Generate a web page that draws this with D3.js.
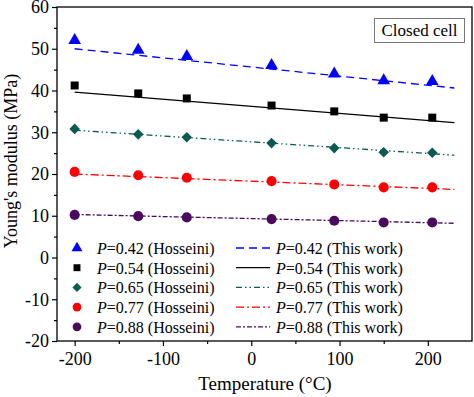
<!DOCTYPE html>
<meta charset="utf-8">
<style>
body { margin: 0; background: #fff; }
text { font-family: "Liberation Serif", "Times New Roman", serif; fill: #000; }
</style>
<body>
<script src="https://d3js.org/d3.v7.min.js"></script>
<script>

const width = 474;
const height = 397;

// measured temperatures (Hosseini)
const temps = [-200, -128, -73, 23, 94, 150, 205];
const ratios = ["0.42", "0.54", "0.65", "0.77", "0.88"];
const hosseini = [
  [52.0, 49.7, 48.2, 46.0, 44.0, 42.4, 42.2],
  [41.2, 39.3, 38.1, 36.4, 35.0, 33.5, 33.5],
  [30.8, 29.5, 28.8, 27.4, 26.2, 25.2, 25.1],
  [20.5, 19.7, 19.1, 18.3, 17.5, 16.8, 16.8],
  [10.2, 9.9, 9.6, 9.2, 8.8, 8.4, 8.4]
];
// this work: straight lines, start/end values
const lineTemps = [-200, 230];
const thisWork = [
  [50.0, 40.6],
  [39.6, 32.3],
  [30.5, 24.5],
  [20.0, 16.3],
  [10.3, 8.2]
];
const colors = ["#0000ff", "#000000", "#0a5c52", "#ff0000", "#4a0a5e"];
const symbols = [d3.symbolTriangle, d3.symbolSquare, d3.symbolSquare, d3.symbolCircle, d3.symbolCircle];
const symRot = [0, 0, 45, 0, 0];
const symSizes = [70, 64, 56, 80, 80];
const dashes = ["8,5", null, "6,3,1.5,3,1.5,3", "8,3,2,3", "5,2,2,2"];

const xTicks = [-200, -100, 0, 100, 200];
const yTicks = [-20, -10, 0, 10, 20, 30, 40, 50, 60];

const margin = {left: 57, top: 7, right: 2, bottom: 56};

const svg = d3.select("body").append("svg")
    .attr("width", width)
    .attr("height", height);

const x = d3.scaleLinear().domain([-220, 250]).range([margin.left, width - margin.right]);
const y = d3.scaleLinear().domain([-20, 60]).range([height - margin.bottom, margin.top]);

// frame
svg.append("rect")
    .attr("x", x.range()[0]).attr("y", y.range()[1])
    .attr("width", x.range()[1] - x.range()[0])
    .attr("height", y.range()[0] - y.range()[1])
    .attr("fill", "none").attr("stroke", "#000").attr("stroke-width", 1.3);

// axes
svg.append("g")
    .attr("transform", `translate(0,${y.range()[0]})`)
    .call(d3.axisBottom(x).tickValues(xTicks).tickSize(5).tickPadding(6).tickFormat(d => String(d)));
svg.append("g")
    .attr("transform", `translate(0,${y.range()[0]})`)
    .call(d3.axisBottom(x).tickValues(d3.range(-150, 250, 100)).tickSize(3).tickFormat(""));

svg.append("g")
    .attr("transform", `translate(${x.range()[0]},0)`)
    .call(d3.axisLeft(y).tickValues(yTicks).tickSize(5).tickPadding(3).tickFormat(d => String(d)));
svg.append("g")
    .attr("transform", `translate(${x.range()[0]},0)`)
    .call(d3.axisLeft(y).tickValues(d3.range(-15, 60, 10)).tickSize(3).tickFormat(""));

svg.selectAll(".domain").remove();
svg.selectAll(".tick line").attr("stroke", "#000").attr("stroke-width", 1.2);
svg.selectAll(".tick text")
    .style("font-family", "Liberation Serif, serif")
    .style("font-size", "18px")
    .attr("fill", "#000");

// axis titles
svg.append("text")
    .attr("x", 265)
    .attr("y", 390)
    .attr("text-anchor", "middle")
    .style("font-size", "19px")
    .text("Temperature (°C)");

svg.append("text")
    .attr("transform", "translate(17,161) rotate(-90)")
    .attr("text-anchor", "middle")
    .style("font-size", "18px")
    .text("Young's modulus (MPa)");

// lines
const line = d3.line().x(d => x(d[0])).y(d => y(d[1]));
thisWork.forEach((vals, i) => {
  svg.append("path")
      .datum(lineTemps.map((t, j) => [t, vals[j]]))
      .attr("d", line)
      .attr("fill", "none")
      .attr("stroke", colors[i])
      .attr("stroke-width", 1.3)
      .attr("stroke-dasharray", dashes[i]);
});

// points
hosseini.forEach((vals, i) => {
  svg.append("g").selectAll("path")
      .data(vals.map((v, j) => [temps[j], v]))
    .enter().append("path")
      .attr("d", d3.symbol().type(symbols[i]).size(symSizes[i]))
      .attr("transform", d => `translate(${x(d[0])},${y(d[1])}) rotate(${symRot[i]})`)
      .attr("fill", colors[i]);
});

// "Closed cell" box
svg.append("rect")
    .attr("x", 374.5).attr("y", 18.5).attr("width", 90).attr("height", 24)
    .attr("fill", "#fff").attr("stroke", "#777").attr("stroke-width", 1);
svg.append("text")
    .attr("x", 419.5).attr("y", 36)
    .attr("text-anchor", "middle")
    .style("font-size", "17px")
    .text("Closed cell");

// legend
const legend = svg.append("g");
ratios.forEach((r, i) => {
  const ly = 248 + i * 19.7;
  legend.append("path")
      .attr("d", d3.symbol().type(symbols[i]).size(symSizes[i] * 0.75))
      .attr("transform", `translate(77,${ly}) rotate(${symRot[i]})`)
      .attr("fill", colors[i]);
  const t1 = legend.append("text").attr("x", 97).attr("y", ly + 6).style("font-size", "16px");
  t1.append("tspan").style("font-style", "italic").text("P");
  t1.append("tspan").text(`=${r} (Hosseini)`);

  legend.append("line")
      .attr("x1", 236).attr("x2", 270).attr("y1", ly).attr("y2", ly)
      .attr("stroke", colors[i]).attr("stroke-width", 1.3)
      .attr("stroke-dasharray", dashes[i]);
  const t2 = legend.append("text").attr("x", 276).attr("y", ly + 6).style("font-size", "16px");
  t2.append("tspan").style("font-style", "italic").text("P");
  t2.append("tspan").text(`=${r} (This work)`);
});

</script>
</body>
